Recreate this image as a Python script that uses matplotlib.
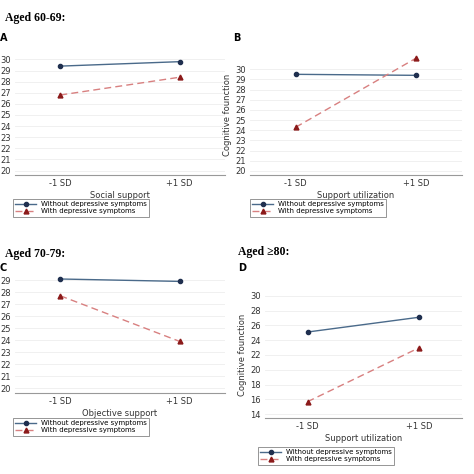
import matplotlib
matplotlib.use("Agg")
import matplotlib.pyplot as plt

xcats = ["-1 SD", "+1 SD"]
a_without = [29.4, 29.8]; a_with = [26.8, 28.4]
b_without = [29.5, 29.4]; b_with = [24.3, 31.1]
c_without = [29.1, 28.9]; c_with = [27.7, 23.9]
d_without = [25.1, 27.1]; d_with = [15.7, 23.0]

W = 474
fig = plt.figure(figsize=(4.74, 4.74), dpi=100)

def px(l, t, r, b):
    return [l / W, 1 - b / W, (r - l) / W, (b - t) / W]

def panel(rect, wo, wi, yticks, ylim, xlabel, ylabel, letter, lxy, title=None, txy=None, leg=None):
    ax = fig.add_axes(px(*rect))
    x = [0, 1]
    ax.plot(x, wo, color="#4a6a8a", lw=1, marker="o", ms=3, mfc="#1f2f4f", mec="#1f2f4f")
    ax.plot(x, wi, color="#d88080", lw=1, ls=(0, (5, 3)), marker="^", ms=3.5, mfc="#8b1a1a", mec="#8b1a1a")
    ax.set_xlim(-0.38, 1.38)
    ax.set_ylim(*ylim)
    ax.set_yticks(yticks)
    ax.set_xticks(x, xcats)
    ax.tick_params(labelsize=6, length=0, colors="#333333", pad=3)
    ax.yaxis.grid(True, color="#eeeeee", lw=0.6)
    for s in ["left", "top", "right"]:
        ax.spines[s].set_visible(False)
    ax.spines["bottom"].set_color("#999999")
    ax.set_xlabel(xlabel, fontsize=6, color="#333333", labelpad=2)
    if ylabel:
        ax.set_ylabel(ylabel, fontsize=6, color="#333333", labelpad=2)
    fig.text(lxy[0] / W, 1 - lxy[1] / W, letter, fontsize=7, fontweight="bold", va="center")
    if title:
        fig.text(txy[0] / W, 1 - txy[1] / W, title, fontsize=8.5, fontweight="bold",
                 family="Liberation Serif", va="center")
    lax = fig.add_axes(px(*leg))
    lax.axis("off")
    h1, = lax.plot([], [], color="#4a6a8a", lw=1, marker="o", ms=3, mfc="#1f2f4f", mec="#1f2f4f")
    h2, = lax.plot([], [], color="#d88080", lw=1, ls=(0, (5, 3)), marker="^", ms=3.5, mfc="#8b1a1a", mec="#8b1a1a")
    l = lax.legend([h1, h2], ["Without depressive symptoms", "With depressive symptoms"],
                   loc="upper left", fontsize=5, frameon=True, fancybox=False,
                   edgecolor="#666666", handlelength=3, borderpad=0.3, labelspacing=0.2,
                   borderaxespad=0)
    l.get_frame().set_linewidth(0.6)

panel((15, 55, 225, 175), a_without, a_with, range(20, 31), (19.6, 30.4),
      "Social support", None, "A", (0, 38), "Aged 60-69:", (5, 18), (13, 199, 140, 221))
panel((250, 55, 462, 175), b_without, b_with, range(20, 31), (19.6, 31.4),
      "Support utilization", "Cognitive founction", "B", (233, 38), None, None, (250, 199, 380, 221))
panel((15, 273, 225, 393), c_without, c_with, range(20, 30), (19.6, 29.6),
      "Objective support", None, "C", (0, 268), "Aged 70-79:", (5, 254), (13, 418, 140, 440))
panel((265, 292, 462, 418), d_without, d_with, range(14, 31, 2), (13.5, 30.5),
      "Support utilization", "Cognitive founction", "D", (238, 268), "Aged \u226580:", (238, 252), (258, 447, 390, 469))

fig.savefig("out.png", dpi=100, facecolor="white")
